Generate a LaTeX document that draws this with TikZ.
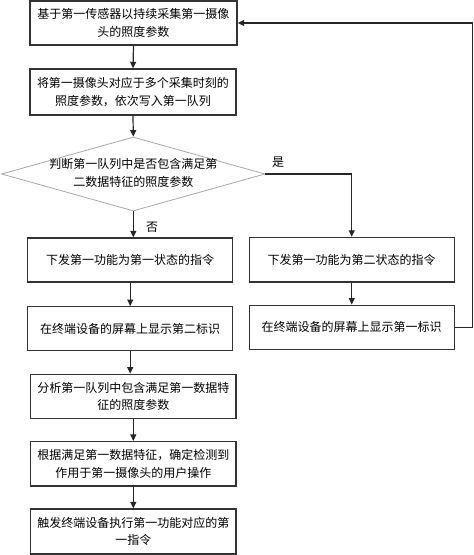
\documentclass[tikz,border=0pt]{standalone}
\usepackage{fontspec}
\newfontfamily\cjk{Noto Sans CJK SC}
\usetikzlibrary{arrows.meta,shapes.geometric}
\definecolor{boxline}{HTML}{333333}
\definecolor{diaml}{HTML}{A8A8A8}
\tikzset{
  stepbox/.style={draw=boxline, line width=1.4pt, fill=white, inner sep=0pt,
    align=center, font=\cjk\fontsize{12}{17.5}\selectfont, text=black},
  decision/.style={diamond, draw=diaml, line width=0.8pt, inner sep=0pt},
  lbl/.style={font=\cjk\fontsize{12}{17.5}\selectfont, align=center, inner sep=0pt},
  conn/.style={draw=black!85, line width=1.2pt, -{Triangle[length=6.5pt,width=6pt]}},
  plain/.style={draw=black!85, line width=1.2pt}
}
\begin{document}
\begin{tikzpicture}[x=1pt,y=-1pt]
\useasboundingbox (0,0) rectangle (474,555);
\node[stepbox, minimum width=207pt, minimum height=44pt] (b1) at (133.5,23)
  {基于第一传感器以持续采集第一摄像\\头的照度参数};
\node[stepbox, minimum width=206pt, minimum height=46pt] (b2) at (133,92)
  {将第一摄像头对应于多个采集时刻的\\照度参数，依次写入第一队列};
\node[decision, minimum width=263.5pt, minimum height=74pt] (d) at (133.3,174) {};
\node[lbl] (dt) at (133.3,173) {判断第一队列中是否包含满足第\\二数据特征的照度参数};
\node[stepbox, minimum width=205pt, minimum height=44pt] (b3) at (130.2,260)
  {下发第一功能为第一状态的指令};
\node[stepbox, minimum width=205pt, minimum height=44.5pt] (b4) at (351.7,259.7)
  {下发第一功能为第二状态的指令};
\node[stepbox, minimum width=205pt, minimum height=44pt] (b5) at (130.2,328.7)
  {在终端设备的屏幕上显示第二标识};
\node[stepbox, minimum width=205pt, minimum height=44pt] (b6) at (351.7,327.2)
  {在终端设备的屏幕上显示第一标识};
\node[stepbox, minimum width=205.3pt, minimum height=44pt] (b7) at (133.3,396.3)
  {分析第一队列中包含满足第一数据特\\征的照度参数};
\node[stepbox, minimum width=205.3pt, minimum height=44.3pt] (b8) at (133.3,463.8)
  {根据满足第一数据特征，确定检测到\\作用于第一摄像头的用户操作};
\node[stepbox, minimum width=205.3pt, minimum height=45pt] (b9) at (133.3,531.5)
  {触发终端设备执行第一功能对应的第\\一指令};
\node[lbl] (no) at (152,227) {否};
\node[lbl] (yes) at (278,162) {是};
\coordinate (fb) at (472.7,23);
\draw[conn] (b1.south) -- (b2.north);
\draw[conn] (b2.south) -- (d.north);
\draw[conn] (d.south) -- (d.south |- b3.north);
\draw[conn] (d.east) -| (b4.north);
\draw[conn] (b3.south) -- (b5.north);
\draw[conn] (b4.south) -- (b6.north);
\draw[conn] (b5.south) -- (b5.south |- b7.north);
\draw[conn] (b7.south) -- (b8.north);
\draw[conn] (b8.south) -- (b9.north);
\draw[plain] (b6.east) -| (fb);
\draw[conn] (fb) -- (b1.east);
\end{tikzpicture}
\end{document}
